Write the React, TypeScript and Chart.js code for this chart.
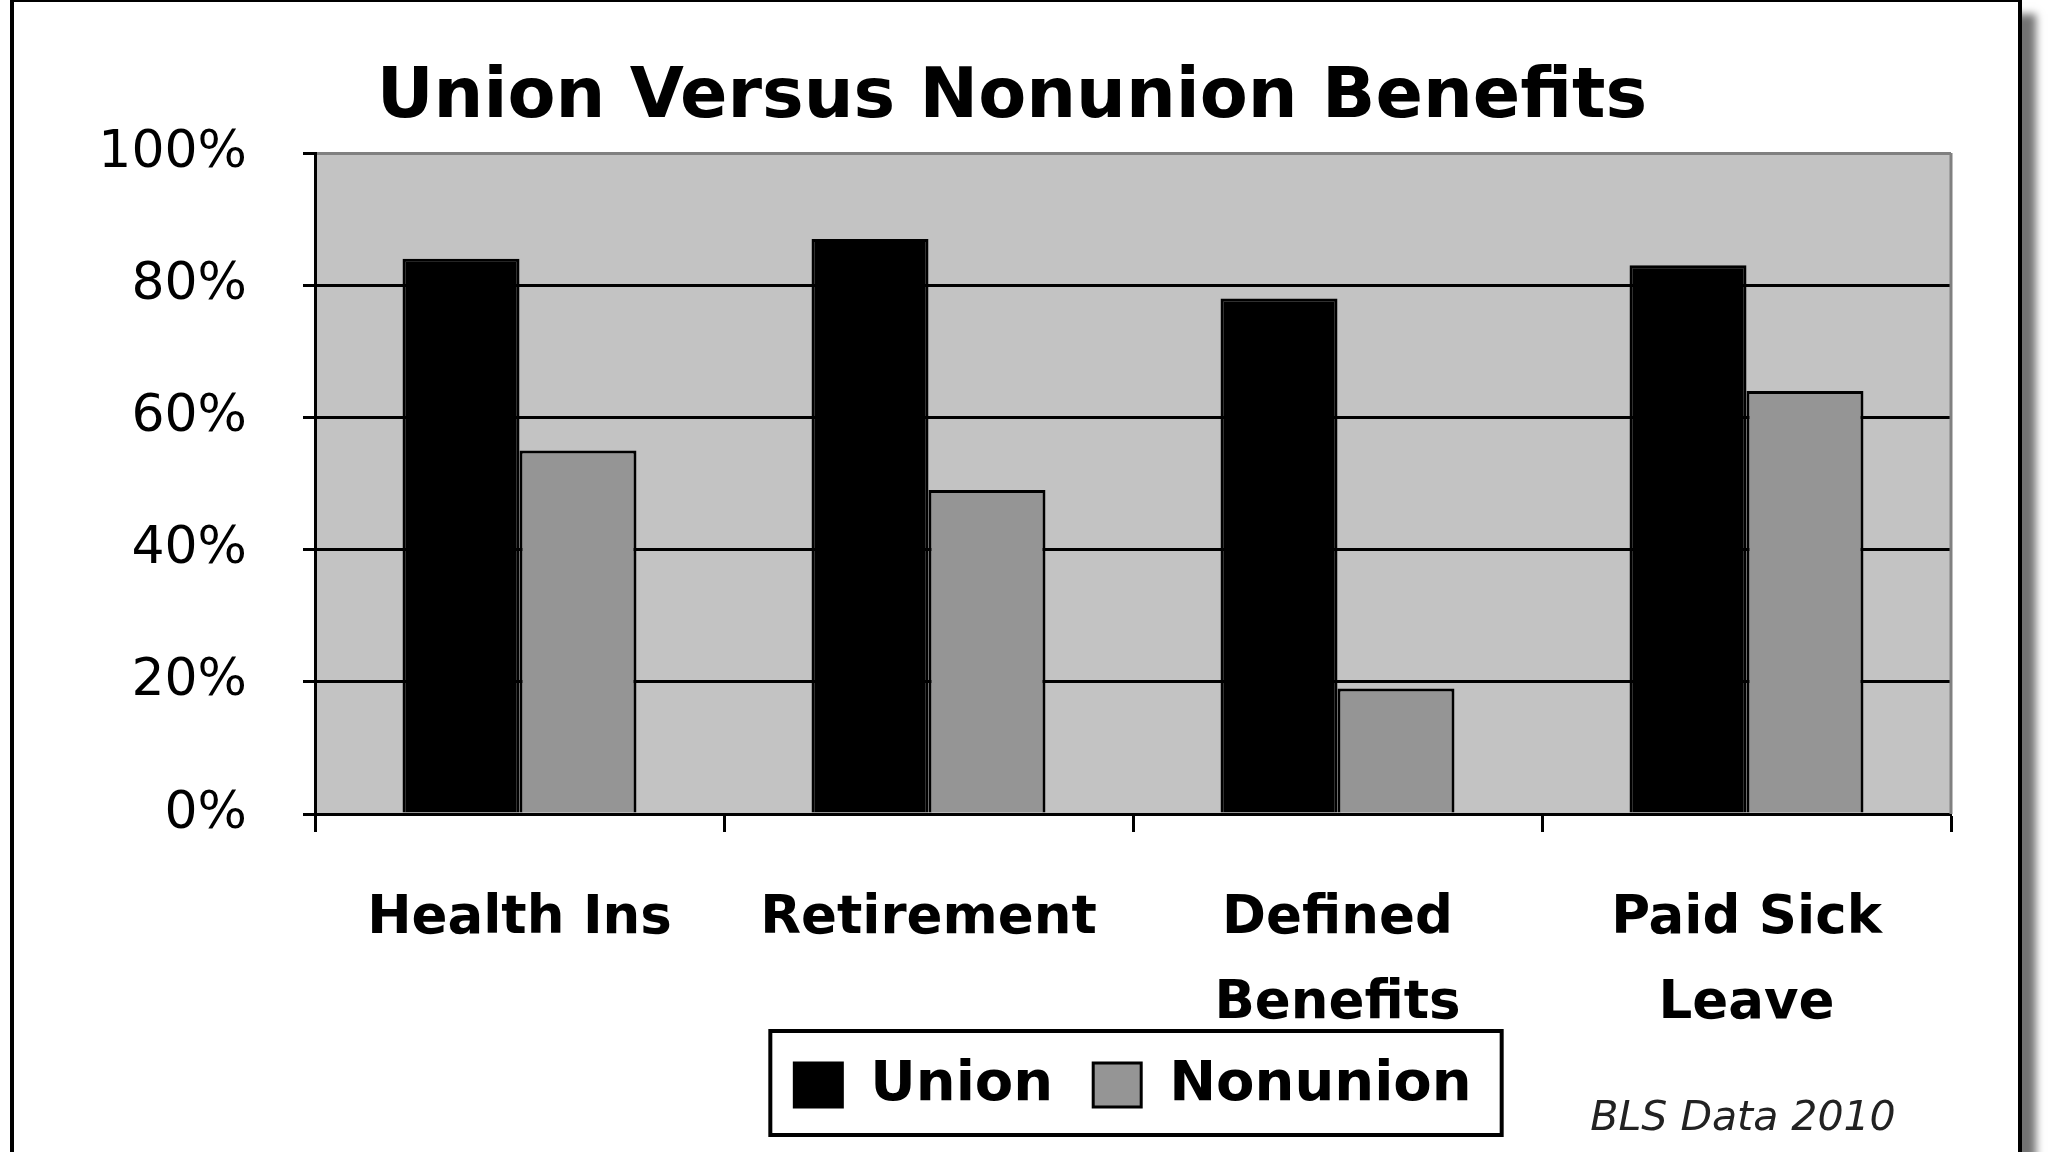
import React, { useEffect, useRef } from "react";
import { Chart, registerables } from "chart.js";

Chart.register(...registerables);

const categories: (string | string[])[] = ["Health Ins", "Retirement", ["Defined", "Benefits"], ["Paid Sick", "Leave"]];
const unionValues = [84, 87, 78, 83];
const nonunionValues = [55, 49, 19, 64];
const yTicks = [0, 20, 40, 60, 80, 100];
const titleText = "Union Versus Nonunion Benefits";
const sourceText = "BLS Data 2010";

const FONT = "'DejaVu Sans', sans-serif";

const plotBgPlugin = {
  id: "plotBg",
  afterLayout(chart: any) {
    // let the category labels extend into the legend band without being clipped
    const xs = chart.scales.x;
    if (xs) xs.bottom = xs.bottom + 80;
  },
  beforeDraw(chart: any) {
    const { ctx, chartArea } = chart;
    ctx.save();
    ctx.fillStyle = "#c3c3c3";
    ctx.fillRect(chartArea.left, chartArea.top, chartArea.right - chartArea.left, chartArea.bottom - chartArea.top);
    ctx.restore();
  },
  beforeDatasetsDraw(chart: any) {
    const { ctx, chartArea } = chart;
    ctx.save();
    ctx.strokeStyle = "#808080";
    ctx.lineWidth = 3;
    ctx.beginPath();
    ctx.moveTo(chartArea.right, chartArea.top);
    ctx.lineTo(chartArea.right, chartArea.bottom);
    ctx.stroke();
    ctx.restore();
  },
  afterDraw(chart: any) {
    const { ctx } = chart;
    const legend = chart.legend;
    if (legend && legend.legendHitBoxes && legend.legendHitBoxes.length) {
      const hbs = legend.legendHitBoxes;
      let l = Infinity, r = -Infinity, c = 0;
      hbs.forEach((hb: any) => {
        l = Math.min(l, hb.left);
        r = Math.max(r, hb.left + hb.width);
        c = hb.top + hb.height / 2;
      });
      ctx.save();
      ctx.strokeStyle = "#000";
      ctx.lineWidth = 4;
      ctx.strokeRect(l - 24, c - 54, r - l + 54, 104);
      ctx.restore();
    }
    ctx.save();
    ctx.font = `italic 41px ${FONT}`;
    ctx.fillStyle = "#222";
    ctx.textAlign = "center";
    ctx.textBaseline = "middle";
    ctx.fillText(sourceText, 1743, 1119);
    ctx.restore();
  },
};

export default function App() {
  const ref = useRef<HTMLCanvasElement>(null);

  useEffect(() => {
    if (!ref.current) return;
    const chart = new Chart(ref.current, {
      type: "bar",
      data: {
        labels: categories,
        datasets: [
          {
            label: "Union",
            data: unionValues,
            backgroundColor: "#000000",
            borderColor: "#000000",
            borderWidth: 3,
            categoryPercentage: 0.572,
            barPercentage: 1.0,
          },
          {
            label: "Nonunion",
            data: nonunionValues,
            backgroundColor: "#959595",
            borderColor: "#000000",
            borderWidth: 3,
            categoryPercentage: 0.572,
            barPercentage: 1.0,
          },
        ],
      },
      plugins: [plotBgPlugin],
      options: {
        animation: false,
        responsive: false,
        devicePixelRatio: 1,
        layout: { padding: { left: 73, right: 97, top: 0, bottom: 29 } },
        plugins: {
          title: {
            display: true,
            text: titleText,
            color: "#000",
            font: { family: FONT, size: 70, weight: "bold", lineHeight: 1.2 },
            padding: { top: 57, bottom: 12 },
          },
          legend: {
            display: true,
            position: "bottom",
            fullSize: false,
            labels: {
              color: "#000",
              font: { family: FONT, size: 56, weight: "bold" },
              boxWidth: 48,
              boxHeight: 44,
              padding: 40,
            },
          },
          tooltip: { enabled: false },
        },
        scales: {
          x: {
            grid: {
              display: true,
              drawOnChartArea: false,
              drawTicks: true,
              tickLength: 18,
              tickWidth: 3,
              tickColor: "#000",
              offset: true,
            },
            border: { display: true, color: "#000", width: 3 },
            ticks: {
              color: "#000",
              font: { family: FONT, size: 53, weight: "bold", lineHeight: 1.6 },
              padding: 45,
              maxRotation: 0,
              autoSkip: false,
            },
            afterFit(scale: any) {
              scale.height = 203;
            },
          },
          y: {
            min: 0,
            max: 100,
            afterBuildTicks(scale: any) {
              scale.ticks = yTicks.map((v) => ({ value: v }));
            },
            grid: {
              color: (ctx: any) => (ctx.tick && ctx.tick.value === 100 ? "#808080" : "#000"),
              lineWidth: 3,
              tickLength: 12,
              tickColor: "#000",
              tickWidth: 3,
            },
            border: { display: true, color: "#000", width: 3 },
            ticks: {
              color: "#000",
              font: { family: FONT, size: 52 },
              padding: 56,
              callback: (v: any) => `${v}%`,
            },
            afterFit(scale: any) {
              scale.width = 242;
            },
          },
        },
      },
    } as any);
    return () => chart.destroy();
  }, []);

  return (
    <div style={{ position: "absolute", left: 0, top: 0, width: 2048, height: 1152, overflow: "hidden", background: "#fff" }}>
      <div
        style={{
          position: "absolute",
          left: 10,
          top: -2,
          width: 2012,
          height: 1220,
          boxSizing: "border-box",
          border: "4px solid #000",
          background: "#fff",
          boxShadow: "14px 16px 8px rgba(0,0,0,0.55)",
        }}
      />
      <canvas ref={ref} width={2048} height={1152} style={{ position: "absolute", left: 0, top: 0, width: 2048, height: 1152 }} />
    </div>
  );
}
